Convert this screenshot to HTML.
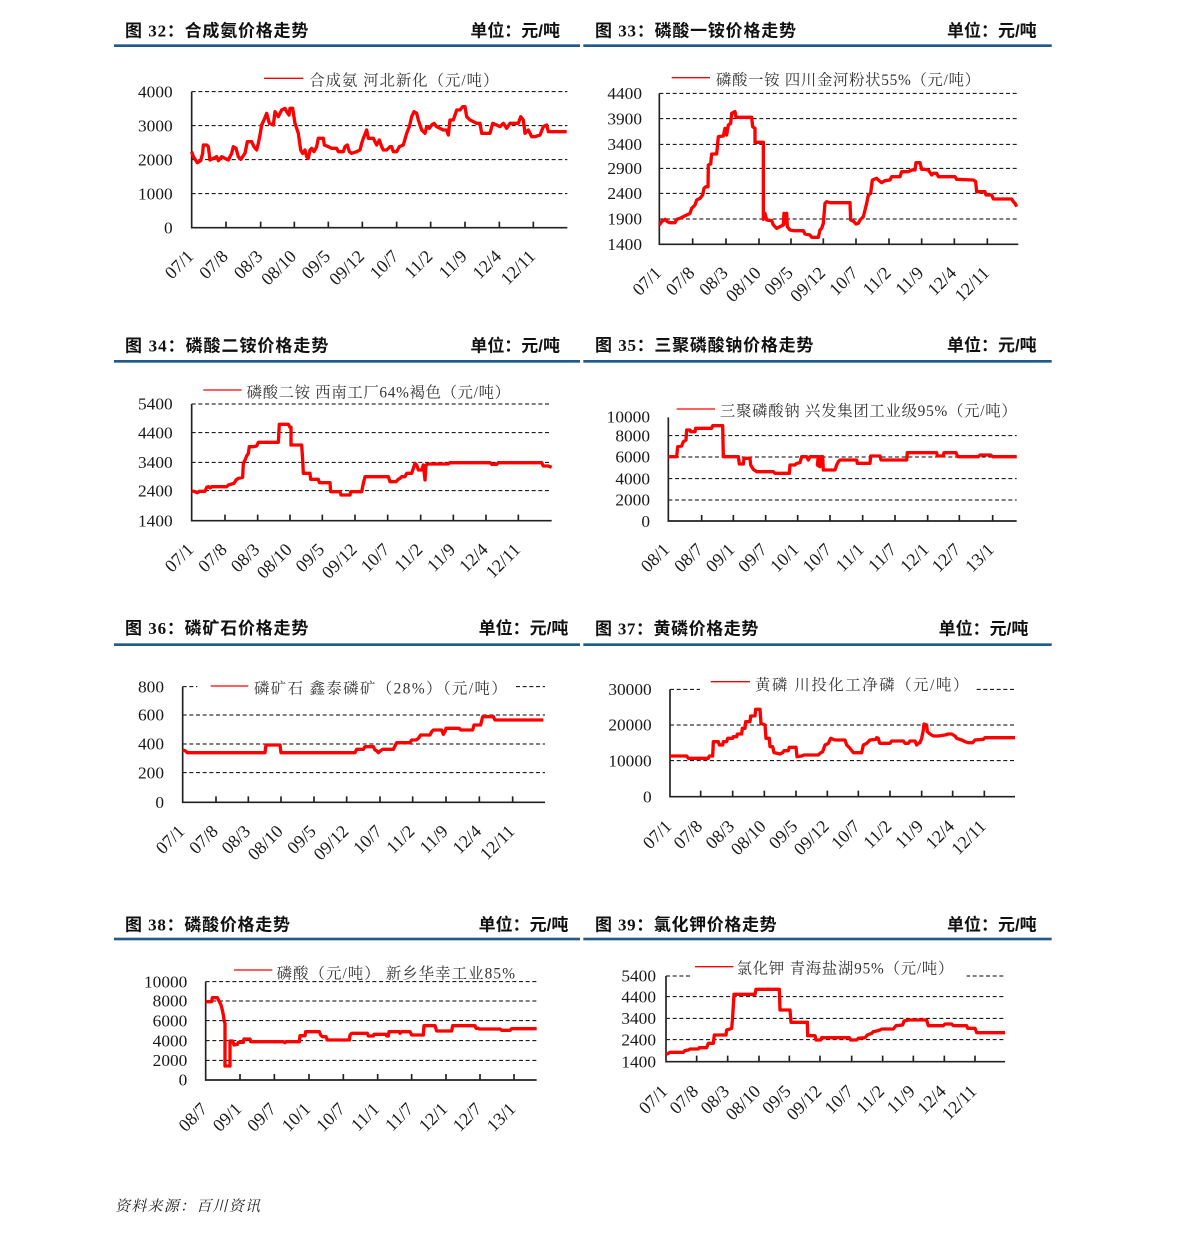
<!DOCTYPE html>
<html><head><meta charset="utf-8"><style>
html,body{margin:0;padding:0;background:#fff;}
svg{display:block;}
.t{font-family:"Liberation Sans","Noto Sans CJK SC",sans-serif;font-weight:bold;font-size:51px;fill:#111;}
.tn{font-family:"Liberation Serif",serif;font-weight:bold;}
.yl{font-family:"Liberation Serif","Noto Serif CJK SC",serif;font-size:52px;fill:#1a1a1a;text-anchor:end;}
.xl{font-family:"Liberation Serif","Noto Serif CJK SC",serif;font-size:54px;fill:#1a1a1a;text-anchor:end;}
.lg{font-family:"Liberation Serif","Noto Serif CJK SC",serif;font-size:46px;fill:#333;}
.g{stroke:#000;stroke-width:3;stroke-dasharray:12 8;fill:none;}
.ax{stroke:#222;stroke-width:5;fill:none;}
.s{stroke:#ff0000;stroke-width:10;fill:none;stroke-linejoin:round;}
.ll{stroke:#ff0000;stroke-width:4;}
.r{fill:#1f5a8a;}
</style></head><body>
<svg width="1191" height="1235" viewBox="0 0 1191 1235" xmlns="http://www.w3.org/2000/svg">
<rect width="1191" height="1235" fill="#fff"/>

<!-- Panel 32 -->
<g transform="translate(110,10) scale(0.333333)">
<text class="t" x="45" y="80" textLength="550" lengthAdjust="spacing">图 <tspan class="tn">32</tspan>：合成氨价格走势</text>
<text class="t" x="1350" y="80" text-anchor="end">单位：元/吨</text>
<rect class="r" x="12" y="103" width="1398" height="8"/>
<path class="g" d="M245,245H1372M245,347H1372M245,449H1372M245,551H1372"/>
<path class="ax" d="M245,245V653H1372M348,635V653M452,635V653M553,635V653M655,635V653M757,635V653M860,635V653M962,635V653M1065,635V653M1168,635V653M1270,635V653"/>
<text class="yl" x="188" y="262">4000</text><text class="yl" x="188" y="364">3000</text><text class="yl" x="188" y="466">2000</text><text class="yl" x="188" y="568">1000</text><text class="yl" x="188" y="670">0</text>
<text class="xl" transform="translate(254,742) rotate(-45)">07/1</text>
<text class="xl" transform="translate(357,742) rotate(-45)">07/8</text>
<text class="xl" transform="translate(461,742) rotate(-45)">08/3</text>
<text class="xl" transform="translate(562,742) rotate(-45)">08/10</text>
<text class="xl" transform="translate(664,742) rotate(-45)">09/5</text>
<text class="xl" transform="translate(766,742) rotate(-45)">09/12</text>
<text class="xl" transform="translate(869,742) rotate(-45)">10/7</text>
<text class="xl" transform="translate(971,742) rotate(-45)">11/2</text>
<text class="xl" transform="translate(1074,742) rotate(-45)">11/9</text>
<text class="xl" transform="translate(1177,742) rotate(-45)">12/4</text>
<text class="xl" transform="translate(1279,742) rotate(-45)">12/11</text>
<line class="ll" x1="462" y1="205" x2="580" y2="205"/>
<text class="lg" x="598" y="226" textLength="567" lengthAdjust="spacing">合成氨 河北新化（元/吨）</text>
<polyline class="s" points="245,425 250,440 262,458 272,452 278,430 280,405 290,405 295,410 300,450 310,445 320,440 325,452 335,440 345,445 355,450 365,430 370,410 378,415 385,440 392,448 398,440 405,430 412,395 425,395 432,410 440,420 445,400 450,375 455,345 462,330 470,310 478,340 490,345 495,305 505,320 515,300 525,295 530,305 537,315 540,295 548,295 555,340 565,370 572,420 578,430 585,420 590,440 595,445 600,420 605,415 612,425 620,410 625,385 640,385 643,405 655,410 665,415 680,415 685,425 700,425 705,410 712,405 718,425 725,430 740,425 750,420 755,400 760,385 770,360 775,385 790,385 800,405 808,390 815,410 820,420 830,420 840,410 845,410 850,425 860,425 868,410 880,405 890,370 898,350 905,320 912,305 920,310 925,330 935,360 945,370 950,350 958,355 965,345 972,340 980,350 990,355 1000,360 1010,360 1015,375 1020,330 1030,330 1040,300 1050,300 1058,290 1065,290 1070,320 1080,330 1090,335 1100,340 1110,340 1115,370 1125,370 1140,370 1148,340 1160,345 1170,350 1180,340 1190,355 1200,340 1210,340 1225,340 1232,320 1240,330 1245,370 1255,360 1265,380 1275,380 1290,375 1300,350 1310,345 1315,365 1370,365"/>
</g>

<!-- Panel 33 -->
<g transform="translate(580,10) scale(0.333333)">
<text class="t" x="45" y="80" textLength="603" lengthAdjust="spacing">图 <tspan class="tn">33</tspan>：磷酸一铵价格走势</text>
<text class="t" x="1370" y="80" text-anchor="end">单位：元/吨</text>
<rect class="r" x="10" y="103" width="1405" height="8"/>
<path class="g" d="M238,250H1315M238,326H1315M238,403H1315M238,475H1315M238,550H1315M238,627H1315"/>
<path class="ax" d="M238,250V703H1315M338,685V703M438,685V703M537,685V703M633,685V703M730,685V703M828,685V703M927,685V703M1025,685V703M1123,685V703M1222,685V703"/>
<text class="yl" x="186" y="267">4400</text><text class="yl" x="186" y="343">3900</text><text class="yl" x="186" y="420">3400</text><text class="yl" x="186" y="492">2900</text><text class="yl" x="186" y="567">2400</text><text class="yl" x="186" y="644">1900</text><text class="yl" x="186" y="720">1400</text>
<text class="xl" transform="translate(247,792) rotate(-45)">07/1</text>
<text class="xl" transform="translate(347,792) rotate(-45)">07/8</text>
<text class="xl" transform="translate(447,792) rotate(-45)">08/3</text>
<text class="xl" transform="translate(546,792) rotate(-45)">08/10</text>
<text class="xl" transform="translate(642,792) rotate(-45)">09/5</text>
<text class="xl" transform="translate(739,792) rotate(-45)">09/12</text>
<text class="xl" transform="translate(837,792) rotate(-45)">10/7</text>
<text class="xl" transform="translate(936,792) rotate(-45)">11/2</text>
<text class="xl" transform="translate(1034,792) rotate(-45)">11/9</text>
<text class="xl" transform="translate(1132,792) rotate(-45)">12/4</text>
<text class="xl" transform="translate(1231,792) rotate(-45)">12/11</text>
<line class="ll" x1="275" y1="203" x2="390" y2="203"/>
<text class="lg" x="408" y="225" textLength="792" lengthAdjust="spacing">磷酸一铵 四川金河粉状55%（元/吨）</text>
<polyline class="s" points="238,645 245,635 255,628 262,635 270,638 285,638 290,628 300,625 310,620 320,615 330,610 335,595 340,590 345,585 350,570 360,565 368,555 372,535 378,530 384,530 385,465 392,462 395,432 410,432 415,380 430,378 435,355 440,375 445,345 452,340 455,310 465,305 468,322 515,322 518,350 525,355 525,397 550,397 550,628 555,610 560,630 575,632 580,645 590,655 600,650 610,645 612,610 618,640 620,610 622,650 630,660 640,662 670,662 675,672 690,675 695,682 715,682 720,660 725,655 730,640 735,580 740,575 750,578 810,578 812,630 822,635 828,642 835,640 840,630 850,620 855,600 860,580 865,555 872,550 877,510 890,505 895,510 905,518 910,515 915,512 930,510 935,500 960,500 965,485 985,485 995,480 1005,480 1008,458 1020,458 1025,478 1035,478 1045,480 1055,495 1060,490 1070,490 1075,500 1125,500 1130,508 1180,510 1187,515 1190,545 1215,545 1218,555 1235,555 1240,567 1295,567 1300,575 1305,580 1310,590"/>
</g>

<!-- Panel 34 -->
<g transform="translate(110,330) scale(0.333333)">
<text class="t" x="45" y="65" textLength="610" lengthAdjust="spacing">图 <tspan class="tn">34</tspan>：磷酸二铵价格走势</text>
<text class="t" x="1350" y="65" text-anchor="end">单位：元/吨</text>
<rect class="r" x="12" y="90" width="1398" height="8"/>
<path class="g" d="M245,222H1325M245,308H1325M245,397H1325M245,482H1325"/>
<path class="ax" d="M245,222V572H1325M345,554V572M443,554V572M540,554V572M637,554V572M735,554V572M833,554V572M932,554V572M1030,554V572M1128,554V572M1225,554V572"/>
<text class="yl" x="188" y="239">5400</text><text class="yl" x="188" y="325">4400</text><text class="yl" x="188" y="414">3400</text><text class="yl" x="188" y="499">2400</text><text class="yl" x="188" y="589">1400</text>
<text class="xl" transform="translate(254,662) rotate(-45)">07/1</text>
<text class="xl" transform="translate(354,662) rotate(-45)">07/8</text>
<text class="xl" transform="translate(452,662) rotate(-45)">08/3</text>
<text class="xl" transform="translate(549,662) rotate(-45)">08/10</text>
<text class="xl" transform="translate(646,662) rotate(-45)">09/5</text>
<text class="xl" transform="translate(744,662) rotate(-45)">09/12</text>
<text class="xl" transform="translate(842,662) rotate(-45)">10/7</text>
<text class="xl" transform="translate(941,662) rotate(-45)">11/2</text>
<text class="xl" transform="translate(1039,662) rotate(-45)">11/9</text>
<text class="xl" transform="translate(1137,662) rotate(-45)">12/4</text>
<text class="xl" transform="translate(1234,662) rotate(-45)">12/11</text>
<line class="ll" x1="280" y1="180" x2="395" y2="180"/>
<text class="lg" x="410" y="202" textLength="790" lengthAdjust="spacing">磷酸二铵 西南工厂64%褐色（元/吨）</text>
<polyline class="s" points="245,483 255,485 262,488 268,484 285,484 290,472 295,470 300,474 305,470 350,470 355,465 365,462 372,460 378,450 385,445 398,442 400,400 405,390 410,378 415,370 418,350 430,350 440,348 445,337 505,337 508,283 535,283 540,292 543,292 543,345 575,345 578,390 580,430 600,430 602,448 625,448 628,458 660,458 662,485 690,485 693,495 720,495 722,485 755,485 760,460 765,440 835,440 840,455 858,455 865,448 870,445 875,440 885,440 890,430 905,430 910,415 915,400 920,405 925,420 935,420 940,405 945,450 948,405 955,402 1015,402 1020,398 1140,398 1145,403 1160,403 1165,398 1295,398 1300,408 1315,408 1325,412"/>
</g>

<!-- Panel 35 -->
<g transform="translate(580,330) scale(0.333333)">
<text class="t" x="45" y="63" textLength="655" lengthAdjust="spacing">图 <tspan class="tn">35</tspan>：三聚磷酸钠价格走势</text>
<text class="t" x="1370" y="63" text-anchor="end">单位：元/吨</text>
<rect class="r" x="10" y="90" width="1405" height="8"/>
<path class="g" d="M265,317H1310M265,381H1310M265,446H1310M265,510H1310"/>
<path class="ax" d="M265,262V573H1310M365,555V573M460,555V573M557,555V573M653,555V573M750,555V573M848,555V573M945,555V573M1043,555V573M1138,555V573M1238,555V573"/>
<text class="yl" x="210" y="278">10000</text><text class="yl" x="210" y="335">8000</text><text class="yl" x="210" y="398">6000</text><text class="yl" x="210" y="463">4000</text><text class="yl" x="210" y="527">2000</text><text class="yl" x="210" y="591">0</text>
<text class="xl" transform="translate(272,662) rotate(-45)">08/1</text>
<text class="xl" transform="translate(372,662) rotate(-45)">08/7</text>
<text class="xl" transform="translate(467,662) rotate(-45)">09/1</text>
<text class="xl" transform="translate(564,662) rotate(-45)">09/7</text>
<text class="xl" transform="translate(660,662) rotate(-45)">10/1</text>
<text class="xl" transform="translate(757,662) rotate(-45)">10/7</text>
<text class="xl" transform="translate(855,662) rotate(-45)">11/1</text>
<text class="xl" transform="translate(952,662) rotate(-45)">11/7</text>
<text class="xl" transform="translate(1050,662) rotate(-45)">12/1</text>
<text class="xl" transform="translate(1145,662) rotate(-45)">12/7</text>
<text class="xl" transform="translate(1245,662) rotate(-45)">13/1</text>
<line class="ll" x1="290" y1="237" x2="405" y2="237"/>
<text class="lg" x="420" y="258" textLength="890" lengthAdjust="spacing">三聚磷酸钠 兴发集团工业级95%（元/吨）</text>
<polyline class="s" points="265,380 290,380 293,350 305,348 310,335 318,330 320,300 330,300 332,305 345,305 347,295 395,295 398,287 428,287 430,380 475,380 478,402 490,402 492,385 510,385 512,405 520,418 530,425 580,425 585,430 628,430 630,405 645,405 650,400 660,398 665,380 680,380 685,390 690,380 715,380 712,405 720,410 722,380 728,380 730,420 765,420 770,405 775,395 780,390 830,390 832,400 870,400 872,378 900,378 903,390 980,390 982,368 1070,368 1072,378 1090,378 1092,368 1128,368 1133,380 1195,380 1200,375 1232,375 1238,380 1310,380"/>
</g>

<!-- Panel 36 -->
<g transform="translate(110,610) scale(0.333333)">
<text class="t" x="45" y="72" textLength="550" lengthAdjust="spacing">图 <tspan class="tn">36</tspan>：磷矿石价格走势</text>
<text class="t" x="1375" y="72" text-anchor="end">单位：元/吨</text>
<rect class="r" x="12" y="100" width="1398" height="8"/>
<path class="g" d="M218,230H1305M218,315H1305M218,402H1305M218,488H1305"/>
<rect x="262" y="198" width="955" height="52" fill="#fff"/>
<path class="ax" d="M218,230V577H1305M318,559V577M415,559V577M513,559V577M612,559V577M710,559V577M810,559V577M908,559V577M1008,559V577M1108,559V577M1208,559V577"/>
<text class="yl" x="162" y="247">800</text><text class="yl" x="162" y="332">600</text><text class="yl" x="162" y="419">400</text><text class="yl" x="162" y="505">200</text><text class="yl" x="162" y="594">0</text>
<text class="xl" transform="translate(227,667) rotate(-45)">07/1</text>
<text class="xl" transform="translate(327,667) rotate(-45)">07/8</text>
<text class="xl" transform="translate(424,667) rotate(-45)">08/3</text>
<text class="xl" transform="translate(522,667) rotate(-45)">08/10</text>
<text class="xl" transform="translate(621,667) rotate(-45)">09/5</text>
<text class="xl" transform="translate(719,667) rotate(-45)">09/12</text>
<text class="xl" transform="translate(819,667) rotate(-45)">10/7</text>
<text class="xl" transform="translate(917,667) rotate(-45)">11/2</text>
<text class="xl" transform="translate(1017,667) rotate(-45)">11/9</text>
<text class="xl" transform="translate(1117,667) rotate(-45)">12/4</text>
<text class="xl" transform="translate(1217,667) rotate(-45)">12/11</text>
<line class="ll" x1="302" y1="228" x2="415" y2="228"/>
<text class="lg" x="432" y="250" textLength="758" lengthAdjust="spacing">磷矿石 鑫泰磷矿（28%）（元/吨）</text>
<polyline class="s" points="218,420 225,422 232,428 465,428 468,405 510,405 513,428 735,428 740,418 760,418 765,410 790,410 795,420 800,422 805,428 812,422 818,418 850,418 855,408 860,398 900,398 905,390 918,390 925,385 932,375 960,375 965,365 970,360 995,360 1000,373 1005,365 1008,355 1048,355 1052,360 1088,360 1092,345 1112,345 1118,320 1150,320 1155,330 1300,330"/>
</g>

<!-- Panel 37 -->
<g transform="translate(580,610) scale(0.333333)">
<text class="t" x="45" y="73" textLength="490" lengthAdjust="spacing">图 <tspan class="tn">37</tspan>：黄磷价格走势</text>
<text class="t" x="1345" y="73" text-anchor="end">单位：元/吨</text>
<rect class="r" x="10" y="100" width="1405" height="8"/>
<path class="g" d="M270,238H1305M270,345H1305M270,452H1305"/>
<rect x="360" y="192" width="825" height="60" fill="#fff"/>
<path class="ax" d="M270,238V560H1305M362,542V560M458,542V560M553,542V560M648,542V560M742,542V560M835,542V560M930,542V560M1025,542V560M1118,542V560M1213,542V560"/>
<text class="yl" x="215" y="255">30000</text><text class="yl" x="215" y="362">20000</text><text class="yl" x="215" y="469">10000</text><text class="yl" x="215" y="577">0</text>
<text class="xl" transform="translate(278,652) rotate(-45)">07/1</text>
<text class="xl" transform="translate(370,652) rotate(-45)">07/8</text>
<text class="xl" transform="translate(466,652) rotate(-45)">08/3</text>
<text class="xl" transform="translate(561,652) rotate(-45)">08/10</text>
<text class="xl" transform="translate(656,652) rotate(-45)">09/5</text>
<text class="xl" transform="translate(750,652) rotate(-45)">09/12</text>
<text class="xl" transform="translate(843,652) rotate(-45)">10/7</text>
<text class="xl" transform="translate(938,652) rotate(-45)">11/2</text>
<text class="xl" transform="translate(1033,652) rotate(-45)">11/9</text>
<text class="xl" transform="translate(1126,652) rotate(-45)">12/4</text>
<text class="xl" transform="translate(1221,652) rotate(-45)">12/11</text>
<line class="ll" x1="392" y1="215" x2="510" y2="215"/>
<text class="lg" x="525" y="240" textLength="640" lengthAdjust="spacing">黄磷 川投化工净磷（元/吨）</text>
<polyline class="s" points="270,438 320,438 325,445 385,445 388,438 398,438 400,395 415,395 418,405 428,405 430,395 440,395 443,385 458,385 460,380 470,380 472,372 485,372 487,355 495,355 497,335 510,335 512,318 525,318 527,298 540,298 543,340 555,345 558,385 568,385 570,410 578,410 582,428 600,432 608,428 612,422 625,422 628,412 648,412 651,440 665,438 672,435 715,435 720,430 728,425 735,405 745,400 752,385 765,390 795,390 800,405 810,415 820,428 845,428 850,405 860,400 870,390 888,388 890,383 895,385 898,398 900,400 930,400 935,393 970,393 975,400 985,400 990,393 1005,393 1010,405 1015,400 1020,398 1025,385 1030,360 1032,342 1040,345 1042,365 1050,372 1060,378 1075,378 1095,375 1105,372 1115,372 1125,378 1130,385 1145,390 1155,395 1165,398 1178,398 1185,390 1210,388 1215,383 1305,383"/>
</g>

<!-- Panel 38 -->
<g transform="translate(110,905) scale(0.333333)">
<text class="t" x="45" y="77" textLength="495" lengthAdjust="spacing">图 <tspan class="tn">38</tspan>：磷酸价格走势</text>
<text class="t" x="1375" y="77" text-anchor="end">单位：元/吨</text>
<rect class="r" x="12" y="98" width="1398" height="8"/>
<path class="g" d="M287,230H1280M287,288H1280M287,347H1280M287,407H1280M287,466H1280"/>
<path class="ax" d="M287,230V525H1280M390,507V525M493,507V525M597,507V525M700,507V525M803,507V525M905,507V525M1008,507V525M1110,507V525M1212,507V525"/>
<text class="yl" x="232" y="247">10000</text><text class="yl" x="232" y="305">8000</text><text class="yl" x="232" y="364">6000</text><text class="yl" x="232" y="424">4000</text><text class="yl" x="232" y="483">2000</text><text class="yl" x="232" y="542">0</text>
<text class="xl" transform="translate(295,615) rotate(-45)">08/7</text>
<text class="xl" transform="translate(398,615) rotate(-45)">09/1</text>
<text class="xl" transform="translate(501,615) rotate(-45)">09/7</text>
<text class="xl" transform="translate(605,615) rotate(-45)">10/1</text>
<text class="xl" transform="translate(708,615) rotate(-45)">10/7</text>
<text class="xl" transform="translate(811,615) rotate(-45)">11/1</text>
<text class="xl" transform="translate(913,615) rotate(-45)">11/7</text>
<text class="xl" transform="translate(1016,615) rotate(-45)">12/1</text>
<text class="xl" transform="translate(1118,615) rotate(-45)">12/7</text>
<text class="xl" transform="translate(1220,615) rotate(-45)">13/1</text>
<line class="ll" x1="372" y1="195" x2="487" y2="195"/>
<text class="lg" x="500" y="220" textLength="715" lengthAdjust="spacing">磷酸（元/吨） 新乡华幸工业85%</text>
<polyline class="s" points="287,290 305,290 307,278 322,278 328,290 333,300 337,315 340,330 343,350 345,355 345,483 360,483 360,408 368,408 372,420 382,418 385,412 400,412 402,402 420,402 422,410 520,410 525,413 528,410 568,410 570,392 585,392 587,380 628,380 632,390 637,395 648,395 652,405 718,405 720,390 725,385 772,385 775,393 790,393 792,388 828,388 830,393 835,393 837,380 868,380 870,385 875,380 900,380 905,390 940,390 942,362 975,362 980,378 1025,378 1028,362 1095,362 1098,370 1105,370 1108,372 1170,372 1175,376 1200,376 1205,371 1280,371"/>
</g>

<!-- Panel 39 -->
<g transform="translate(580,905) scale(0.333333)">
<text class="t" x="45" y="77" textLength="545" lengthAdjust="spacing">图 <tspan class="tn">39</tspan>：氯化钾价格走势</text>
<text class="t" x="1370" y="77" text-anchor="end">单位：元/吨</text>
<rect class="r" x="10" y="98" width="1405" height="8"/>
<path class="g" d="M258,213H1275M258,275H1275M258,340H1275M258,404H1275"/>
<rect x="335" y="160" width="825" height="58" fill="#fff"/>
<path class="ax" d="M258,213V470H1275M350,452V470M443,452V470M537,452V470M628,452V470M720,452V470M815,452V470M908,452V470M1000,452V470M1093,452V470M1185,452V470"/>
<text class="yl" x="228" y="230">5400</text><text class="yl" x="228" y="292">4400</text><text class="yl" x="228" y="357">3400</text><text class="yl" x="228" y="421">2400</text><text class="yl" x="228" y="487">1400</text>
<text class="xl" transform="translate(266,562) rotate(-45)">07/1</text>
<text class="xl" transform="translate(358,562) rotate(-45)">07/8</text>
<text class="xl" transform="translate(451,562) rotate(-45)">08/3</text>
<text class="xl" transform="translate(545,562) rotate(-45)">08/10</text>
<text class="xl" transform="translate(636,562) rotate(-45)">09/5</text>
<text class="xl" transform="translate(728,562) rotate(-45)">09/12</text>
<text class="xl" transform="translate(823,562) rotate(-45)">10/7</text>
<text class="xl" transform="translate(916,562) rotate(-45)">11/2</text>
<text class="xl" transform="translate(1008,562) rotate(-45)">11/9</text>
<text class="xl" transform="translate(1101,562) rotate(-45)">12/4</text>
<text class="xl" transform="translate(1193,562) rotate(-45)">12/11</text>
<line class="ll" x1="345" y1="185" x2="460" y2="185"/>
<text class="lg" x="470" y="205" textLength="650" lengthAdjust="spacing">氯化钾 青海盐湖95%（元/吨）</text>
<polyline class="s" points="258,448 265,445 270,442 310,442 315,437 325,435 330,432 355,432 358,428 380,428 385,415 400,415 403,390 438,390 440,375 450,372 455,370 458,335 462,268 525,268 528,253 598,253 600,315 630,315 633,352 682,352 683,392 705,392 708,405 722,405 725,398 808,398 812,405 830,405 835,400 855,398 862,390 875,385 880,380 890,378 900,375 905,372 940,372 948,362 968,360 972,348 985,345 1040,345 1045,362 1090,362 1095,357 1115,357 1120,362 1160,362 1163,370 1185,370 1190,383 1275,383"/>
</g>

<text x="115" y="1211" font-family="'Liberation Serif','Noto Serif CJK SC',serif" font-style="italic" font-size="15" fill="#222" textLength="145" lengthAdjust="spacing">资料来源：百川资讯</text>
</svg>
</body></html>
